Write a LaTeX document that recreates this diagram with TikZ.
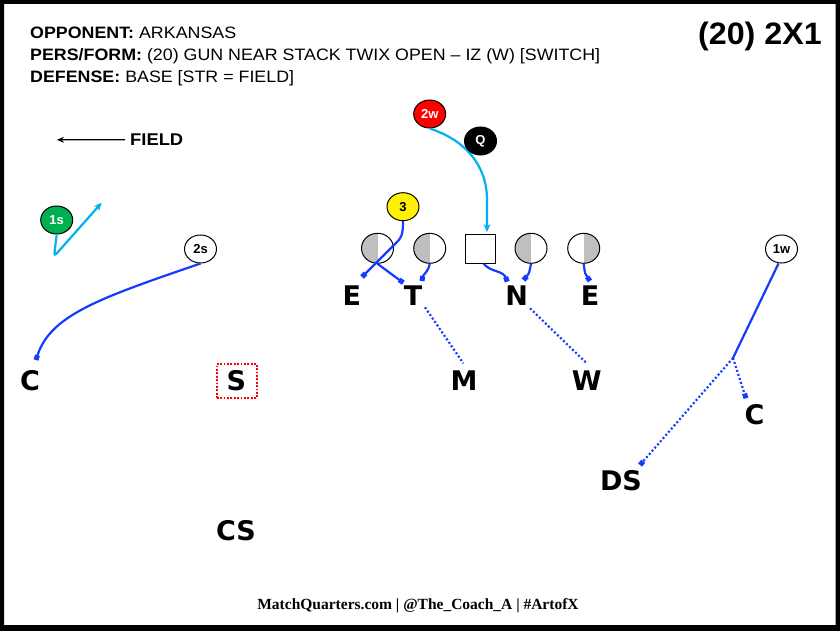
\documentclass[tikz,border=0pt]{standalone}
\usepackage{fontspec}
\setmainfont{Liberation Sans}
\newfontfamily\serifft{Liberation Serif}
\newfontfamily\heavyft{DejaVu Sans}
\usetikzlibrary{shapes.geometric,arrows.meta}
\definecolor{cyanr}{RGB}{0,176,240}
\definecolor{bluer}{RGB}{20,60,255}
\definecolor{greenp}{RGB}{0,176,80}
\definecolor{grayh}{RGB}{191,191,191}
\begin{document}
\begin{tikzpicture}[x=1pt,y=-1pt,
 player/.style={ellipse,draw=black,line width=1pt,minimum width=32pt,minimum height=28pt,inner sep=0pt,font=\bfseries\fontsize{13}{13}\selectfont},
 lineman/.style={ellipse,draw=black,fill=white,line width=1pt,minimum width=32pt,minimum height=30pt,inner sep=0pt},
 halfL/.style={lineman,path picture={\fill[grayh] (path picture bounding box.south west) rectangle (path picture bounding box.north);}},
 halfR/.style={lineman,path picture={\fill[grayh] (path picture bounding box.south) rectangle (path picture bounding box.north east);}},
 deflab/.style={inner sep=0pt,font=\heavyft\bfseries\fontsize{27}{27}\selectfont},
 titl/.style={anchor=base west,inner sep=0pt,font=\fontsize{16.5}{16.5}\selectfont},
 route/.style={line width=2.2pt,bluer},
 sroute/.style={line width=2.2pt,cyanr},
 droute/.style={line width=2.2pt,bluer,dash pattern=on 2pt off 2.2pt},
 sqend/.style={-{Square[length=5pt,width=5pt]}},
 arrend/.style={-{Stealth[length=8pt,width=7pt]}},
]
\useasboundingbox (0,0) rectangle (840,631);
\fill[black,even odd rule] (0,0) rectangle (840,631) (4,4) rectangle (835.5,625);

% header
\node[titl] (t1) at (30,39) {\scalebox{1.08}[1]{\textbf{OPPONENT:} ARKANSAS}};
\node[titl] (t2) at (30,61) {\scalebox{1.08}[1]{\textbf{PERS/FORM:} (20) GUN NEAR STACK TWIX OPEN – IZ (W) [SWITCH]}};
\node[titl] (t3) at (30,82.5) {\scalebox{1.08}[1]{\textbf{DEFENSE:} BASE [STR = FIELD]}};
\node[anchor=base east,inner sep=0pt,font=\bfseries\fontsize{31}{31}\selectfont] (hdr) at (822,45) {\scalebox{1.04}[1]{(20) 2X1}};

% field indicator
\node[anchor=base west,inner sep=0pt,font=\bfseries\fontsize{17}{17}\selectfont] (field) at (130,145.5) {\scalebox{1.08}[1]{FIELD}};
\coordinate (fieldtip) at (57,139.8);
\draw[line width=1.3pt,-{Stealth[length=7pt,width=6pt]},shorten <=5pt] (field.west) -- (fieldtip);

% offense
\node[player,fill=greenp,text=white] (p1s) at (56.7,220) {1s};
\node[player,fill=white] (p2s) at (200.5,249) {2s};
\node[player,fill=yellow] (p3) at (403,206.7) {3};
\node[player,fill=red,text=white] (p2w) at (429.7,114) {2w};
\node[player,fill=white] (p1w) at (781.5,249) {1w};

\coordinate (cQ) at (487,232);
\draw[sroute,arrend] (p2w.south) .. controls (465,140) and (487,165) .. (487,200) -- (cQ);
\node[player,fill=black,text=white] (pq) at (480.5,141) {Q};

\node[halfL] (l1) at (377.5,248.3) {};
\node[halfL] (l2) at (429.7,248.3) {};
\node[draw,fill=white,line width=1pt,minimum width=30pt,minimum height=28.5pt,inner sep=0pt] (ctr) at (480.5,249) {};
\node[halfL] (l4) at (531,248.3) {};
\node[halfR] (l5) at (583.7,248.3) {};

% defense
\node[deflab] (dE1) at (351.8,296) {E};
\node[deflab] (dT) at (413,296) {T};
\node[deflab] (dN) at (516.7,296) {N};
\node[deflab] (dE2) at (590,296) {E};
\node[deflab] (dM) at (464,380.7) {M};
\node[deflab] (dW) at (586.7,380.7) {W};
\node[deflab] (dS) at (236.3,380.7) {S};
\node[draw=red,line width=1.8pt,dash pattern=on 1.8pt off 1.6pt,minimum width=40pt,minimum height=34pt,inner sep=0pt] (sbox) at (236.7,381) {};
\node[deflab] (dCl) at (30,381) {C};
\node[deflab] (dCr) at (754.5,415) {C};
\node[deflab] (dDS) at (621,481) {DS};
\node[deflab] (dCS) at (236,531) {CS};

% routes / blocks
\coordinate (r1s) at (101.7,202.7);
\draw[sroute,arrend,rounded corners=4pt] (p1s.south) -- (54,256.5) -- (r1s);

\coordinate (c2s) at (36,360);
\draw[route,sqend] (p2s.south) .. controls (100,298) and (50,315) .. (c2s);

\coordinate (cE1) at (362,277);
\draw[route,sqend] (p3.south) .. controls (403,236) and (401,238) .. (396,243) -- (cE1);
\coordinate (cT1) at (403.3,282.7);
\draw[route,sqend] (l1.south) .. controls (388,272) .. (cT1);
\coordinate (cT2) at (422,281);
\draw[route,sqend] (l2.south) .. controls (428,273) and (423,274) .. (cT2);
\coordinate (cN1) at (507.3,281.7);
\draw[route,sqend] ([xshift=3pt]ctr.south) .. controls (492,273) and (503,270) .. (cN1);
\coordinate (cN2) at (523.5,280);
\draw[route,sqend] (l4.south) .. controls (529,274) .. (cN2);
\coordinate (cE2) at (590,281);
\draw[route,sqend] (l5.south) .. controls (585,274) .. (cE2);

\coordinate (cTd) at (425,307.3);
\coordinate (cMd) at (463.3,363.3);
\draw[droute] (cTd) -- (cMd);
\coordinate (cNd) at (530,308.3);
\coordinate (cWd) at (586.7,363.3);
\draw[droute] (cNd) -- (cWd);

\coordinate (br) at (733,358);
\coordinate (cDS) at (640,465);
\coordinate (cCr) at (746,398.3);
\draw[route] ([xshift=-3pt]p1w.south) -- (br);
\draw[droute,sqend] (br) -- (cDS);
\draw[droute,sqend] (br) -- (cCr);

% footer
\node[anchor=base,inner sep=0pt,font=\serifft\bfseries\fontsize{15.5}{15.5}\selectfont] (foot) at (418,609) {MatchQuarters.com | @The\_Coach\_A | \#ArtofX};
\end{tikzpicture}
\end{document}
